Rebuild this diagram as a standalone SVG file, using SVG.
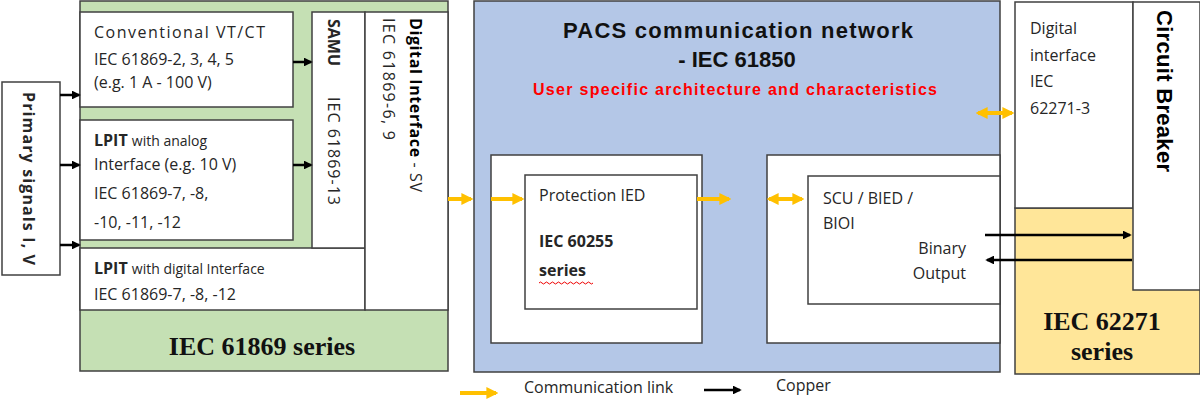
<svg xmlns="http://www.w3.org/2000/svg" width="1200" height="402" viewBox="0 0 1200 402">
<style>
.b{fill:#fff;stroke:#404040;stroke-width:1.5}
.t{font-family:"Open Sans","Liberation Sans",sans-serif;font-size:16px;fill:#262626}
.s{font-family:"Liberation Serif",serif;font-weight:bold;fill:#111}
.bd{font-weight:bold}
.o{stroke:#FFC000;stroke-width:4;fill:none}
.k{stroke:#000;stroke-width:2.5;fill:none}
</style>
<defs>
<marker id="oa" viewBox="0 0 10 10" refX="8" refY="5" markerWidth="3" markerHeight="3" orient="auto-start-reverse"><path d="M0,0L10,5L0,10z" fill="#FFC000"/></marker>
<marker id="ka" viewBox="0 0 10 10" refX="8" refY="5" markerWidth="3.5" markerHeight="3.5" orient="auto"><path d="M0,0L10,5L0,10z" fill="#000"/></marker>
</defs>
<g id="iec61869">
<rect x="80" y="1" width="368" height="370" fill="#C5E0B4" stroke="#404040" stroke-width="1.5"/>
<text x="262" y="355" class="s" font-size="26" text-anchor="middle">IEC 61869 series</text>
</g>
<g id="primary">
<rect class="b" x="2" y="82" width="58" height="193"/>
<text transform="translate(23,92) rotate(90)" class="t bd" font-size="20" fill="#000" textLength="173">Primary signals I, V</text>
</g>
<g id="conv">
<rect class="b" x="80" y="12" width="213" height="95"/>
<text x="94" y="38" class="t" textLength="171">Conventional VT/CT</text>
<text x="94" y="65" class="t">IEC 61869-2, 3, 4, 5</text>
<text x="94" y="88" class="t" font-size="13">(e.g. 1 A - 100 V)</text>
</g>
<g id="lpita">
<rect class="b" x="80" y="120" width="213" height="120"/>
<text x="94" y="146" class="t"><tspan class="bd">LPIT</tspan> <tspan font-size="14">with analog</tspan></text>
<text x="94" y="170" class="t" font-size="14">Interface (e.g. 10 V)</text>
<text x="94" y="199" class="t">IEC 61869-7, -8,</text>
<text x="94" y="228" class="t">-10, -11, -12</text>
</g>
<g id="lpitd">
<rect class="b" x="80" y="248" width="285" height="62"/>
<text x="94" y="274" class="t"><tspan class="bd">LPIT</tspan> <tspan font-size="14">with digital Interface</tspan></text>
<text x="94" y="300" class="t">IEC 61869-7, -8, -12</text>
</g>
<g id="samu">
<rect class="b" x="312" y="12" width="53" height="236"/>
<text transform="translate(328,19) rotate(90)" class="t bd" font-size="17" fill="#000">SAMU</text>
<text transform="translate(328,97) rotate(90)" class="t" font-size="16" textLength="108">IEC 61869-13</text>
</g>
<g id="digif">
<rect class="b" x="365" y="12" width="83" height="298"/>
<text transform="translate(383,18) rotate(90)" class="t" textLength="122">IEC 61869-6, 9</text>
<text transform="translate(410,18) rotate(90)" class="t" font-size="17" textLength="174"><tspan class="bd" fill="#000">Digital Interface</tspan> - SV</text>
</g>
<g id="pacs">
<rect x="474" y="1" width="526" height="371" fill="#B4C7E7" stroke="#404040" stroke-width="1.5"/>
<text x="563" y="38" font-family="Liberation Sans,sans-serif" font-size="22" font-weight="bold" fill="#111" textLength="350">PACS communication network</text>
<text x="737" y="67" font-family="Liberation Sans,sans-serif" font-size="22" font-weight="bold" text-anchor="middle" fill="#111">- IEC 61850</text>
<text x="533" y="95" font-family="Liberation Sans,sans-serif" font-size="16" font-weight="bold" fill="#FF0000" textLength="404">User specific architecture and characteristics</text>
</g>
<g id="protbox">
<rect class="b" x="491" y="155" width="211" height="188"/>
<rect class="b" x="525" y="175" width="172" height="134"/>
<text x="539" y="201" class="t">Protection IED</text>
<text x="539" y="247" class="t bd" font-size="18" fill="#000">IEC 60255</text>
<text x="539" y="276" class="t bd" font-size="18" fill="#000">series</text>
<path d="M539,283 q1.5,-2 3,0 t3,0 t3,0 t3,0 t3,0 t3,0 t3,0 t3,0 t3,0 t3,0 t3,0 t3,0 t3,0 t3,0 t3,0 t3,0 t3,0 t3,0" fill="none" stroke="#E00" stroke-width="1"/>
</g>
<g id="scubox">
<rect class="b" x="767" y="155" width="233" height="188"/>
<rect class="b" x="808" y="176" width="192" height="128"/>
<text x="823" y="204" class="t">SCU / BIED /</text>
<text x="823" y="229" class="t">BIOI</text>
<text x="966" y="254" class="t" text-anchor="end">Binary</text>
<text x="966" y="279" class="t" text-anchor="end">Output</text>
</g>
<g id="iec62271">
<rect x="1015" y="208" width="185" height="166" fill="#FFE699" stroke="#404040" stroke-width="1.5"/>
<text x="1102" y="330" class="s" font-size="26" text-anchor="middle">IEC 62271</text>
<text x="1102" y="360" class="s" font-size="26" text-anchor="middle">series</text>
</g>
<g id="digif2">
<rect class="b" x="1015" y="2" width="118" height="206"/>
<text x="1030" y="34" class="t">Digital</text>
<text x="1030" y="61" class="t">interface</text>
<text x="1030" y="87" class="t">IEC</text>
<text x="1030" y="114" class="t">62271-3</text>
</g>
<g id="cb">
<rect class="b" x="1133" y="2" width="67" height="288"/>
<text transform="translate(1157,10) rotate(90)" font-family="Liberation Sans,sans-serif" font-size="22" font-weight="bold" fill="#000" textLength="162">Circuit Breaker</text>
</g>
<g id="connectors">
<path class="k" d="M60,95H79" marker-end="url(#ka)"/>
<path class="k" d="M60,165H79" marker-end="url(#ka)"/>
<path class="k" d="M60,245H79" marker-end="url(#ka)"/>
<path class="k" d="M293,62H311" marker-end="url(#ka)"/>
<path class="k" d="M293,165H311" marker-end="url(#ka)"/>
<path class="o" d="M448,199H471" marker-end="url(#oa)"/>
<path class="o" d="M491,199H522" marker-end="url(#oa)"/>
<path class="o" d="M697,199H729" marker-end="url(#oa)"/>
<path class="o" d="M769,199H802" marker-start="url(#oa)" marker-end="url(#oa)"/>
<path class="o" d="M978,113H1012" marker-start="url(#oa)" marker-end="url(#oa)"/>
<path class="k" d="M985,235H1130" marker-end="url(#ka)"/>
<path class="k" d="M1132,260H987" marker-end="url(#ka)"/>
</g>
<g id="legend">
<path class="o" d="M460,393H496" marker-end="url(#oa)"/>
<text x="524" y="393" class="t">Communication link</text>
<path class="k" d="M704,390H740" marker-end="url(#ka)"/>
<text x="776" y="391" class="t">Copper</text>
</g>
</svg>
